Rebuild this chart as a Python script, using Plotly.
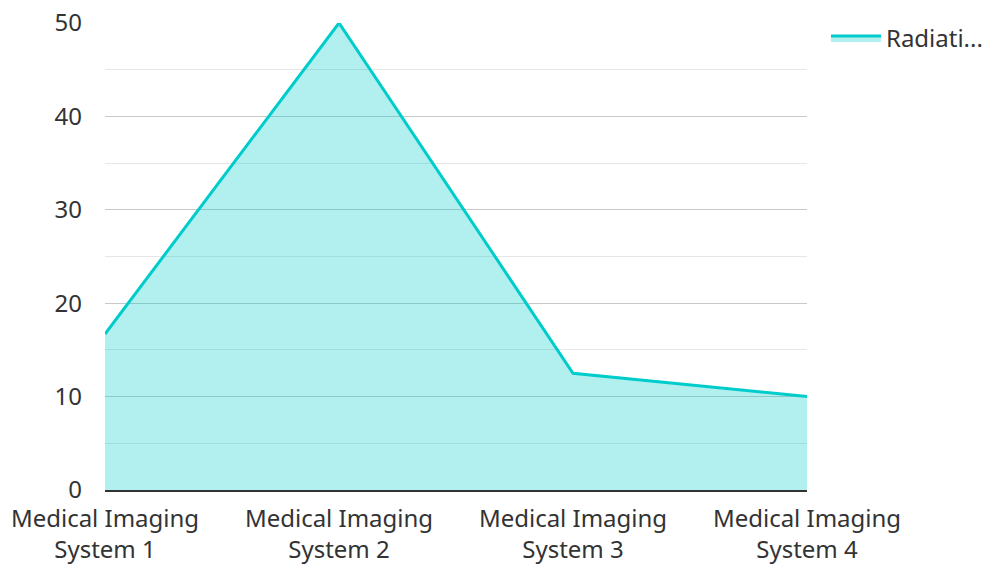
import plotly.graph_objects as go

# Radiation figures per imaging system
systems = ["Medical Imaging<br>System 1", "Medical Imaging<br>System 2",
           "Medical Imaging<br>System 3", "Medical Imaging<br>System 4"]
radiation = [16.7, 50, 12.5, 10]
series_name = "Radiati..."

line_color = "#00CCCC"
fill_color = "rgba(0,204,204,0.3)"
font_family = "Noto Sans, Open Sans, sans-serif"

fig = go.Figure()
fig.add_trace(go.Scatter(
    x=systems, y=radiation, name=series_name,
    mode="lines", fill="tozeroy",
    line=dict(color=line_color, width=3),
    fillcolor=fill_color,
))

fig.update_layout(
    width=993, height=564,
    margin=dict(l=105, r=186, t=23, b=74, autoexpand=False),
    paper_bgcolor="white", plot_bgcolor="white",
    font=dict(family=font_family, size=24, color="#333333"),
    showlegend=True,
    legend=dict(x=1.027, y=1.015, xanchor="left", yanchor="top",
                itemwidth=50,
                font=dict(size=24, color="#333333"),
                bgcolor="rgba(0,0,0,0)"),
    xaxis=dict(
        range=[0, 3], showgrid=False, zeroline=False, automargin=False,
        showline=True, linecolor="#333333", linewidth=2,
        tickfont=dict(size=24, color="#333333"),
        ticks="", ticklabelstandoff=6, fixedrange=True,
    ),
    yaxis=dict(
        range=[0, 50], dtick=10, showgrid=True, automargin=False,
        gridcolor="#c8c8c8", gridwidth=1, zeroline=False,
        showline=False, ticks="", ticklabelstandoff=22,
        tickfont=dict(size=24, color="#333333"),
        minor=dict(dtick=5, showgrid=True, gridcolor="#e6e6e6", gridwidth=1),
    ),
)

fig.write_html("out.html")
